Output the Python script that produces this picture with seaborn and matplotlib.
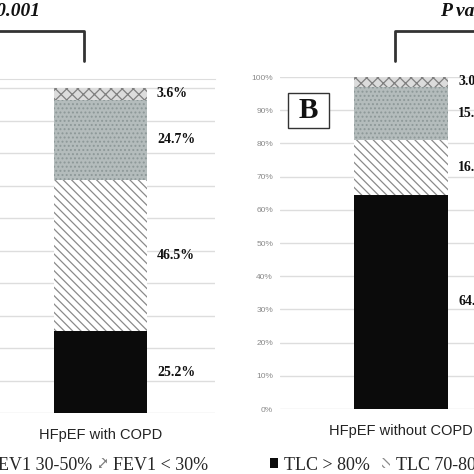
import numpy as np
import pandas as pd
import matplotlib
matplotlib.use('Agg')
import matplotlib.pyplot as plt
from matplotlib.patches import Patch, Rectangle
from matplotlib.lines import Line2D
import seaborn as sns

##values (bottom -> top of each stacked bar)
fev_cat = 'HFpEF with COPD'
fev_levels = ['FEV1 \u2265 80%', 'FEV1 50-80%', 'FEV1 30-50%', 'FEV1 < 30%']
fev_pct = [25.2, 46.5, 24.7, 3.6]

tlc_cat = 'HFpEF without COPD'
tlc_levels = ['TLC > 80%', 'TLC 70-80%', 'TLC 60-70%', 'TLC < 60%']
tlc_pct = [64.5, 16.6, 15.9, 3.0]

pval_text = 'P value < 0.001'
ytick_vals = np.arange(0, 101, 10)
ytick_labels = ['%d%%' % v for v in ytick_vals]

##segment styles (black, diagonal, dotted grey, crosshatch)
seg_style = [
    dict(color='#0b0b0b', hatch=None, edgecolor='#0b0b0b'),
    dict(color='white', hatch='\\\\\\\\', edgecolor='#8a8a8a'),
    dict(color='#b4bcbc', hatch='....', edgecolor='#8d9898'),
    dict(color='#dcdcdc', hatch='xxx', edgecolor='#7f7f7f'),
]

sns.set_style('white')
plt.rcParams['hatch.linewidth'] = 0.9
plt.rcParams['font.family'] = ['Liberation Serif', 'DejaVu Serif']

W = H = 474
fig = plt.figure(figsize=(4.74, 4.74), dpi=100)


def px_axes(x0, y0, x1, y1):
    return fig.add_axes([x0 / W, 1 - y1 / H, (x1 - x0) / W, (y1 - y0) / H])


def stacked(ax, cat, values):
    df = pd.DataFrame({'cat': [cat] * len(values), 'pct': values})
    df['top'] = df['pct'].cumsum()
    ##draw tallest first so each lower segment covers the one above
    for i in reversed(range(len(df))):
        st = seg_style[i]
        sns.barplot(x=[cat], y=[df['top'][i]], ax=ax, color=st['color'],
                    hatch=st['hatch'], edgecolor=st['edgecolor'], linewidth=0,
                    saturation=1, width=0.8, zorder=3)
    mids = df['top'] - df['pct'] / 2
    for m, v in zip(mids, df['pct']):
        ax.text(0.485, m, '%.1f%%' % v, ha='left', va='center',
                fontsize=10, fontweight='bold', color='#111111', clip_on=False)


def style_axes(ax, xlim, ylim):
    ax.set_xlim(*xlim)
    ax.set_ylim(*ylim)
    ax.set_yticks(ytick_vals)
    ax.grid(axis='y', color='#dddddd', linewidth=1, zorder=0)
    ax.set_axisbelow(True)
    for s in ax.spines.values():
        s.set_visible(False)
    ax.set_xlabel('')
    ax.set_ylabel('')
    ax.tick_params(axis='x', length=0, pad=11)
    ax.tick_params(axis='y', length=0, pad=5)
    for t in ax.get_xticklabels():
        t.set_fontfamily('Liberation Sans')
        t.set_fontsize(10.5)
        t.set_color('#222222')


##left panel (FEV1)
ax1 = px_axes(-60, 79, 215, 413)
stacked(ax1, fev_cat, fev_pct)
style_axes(ax1, (-1.381, 0.985), (0, 102.8))
ax1.set_yticklabels([])
ax1.spines['top'].set_visible(True)
ax1.spines['top'].set_color('#dddddd')

##right panel (TLC)
ax2 = px_axes(280, 77, 560, 409)
stacked(ax2, tlc_cat, tlc_pct)
style_axes(ax2, (-1.03, 1.353), (0, 100))
ax2.set_yticklabels(ytick_labels, fontsize=6, color='#8a8a8a',
                    fontfamily='Liberation Sans')

##legends under each panel
def legend_handles(levels):
    hs = []
    for lev, st in zip(levels, seg_style):
        fc = st['color'] if st['hatch'] is None else 'white'
        hs.append(Patch(facecolor=fc, hatch=st['hatch'],
                        edgecolor=st['edgecolor'], linewidth=0, label=lev))
    return hs

fig.legend(handles=legend_handles(fev_levels), loc='center right',
           bbox_to_anchor=(208 / W, 1 - 465 / H), ncol=4, frameon=False,
           fontsize=13, handlelength=0.45, handleheight=0.45,
           handletextpad=0.3, columnspacing=0.4, borderpad=0, borderaxespad=0)
fig.legend(handles=legend_handles(tlc_levels), loc='center left',
           bbox_to_anchor=(270 / W, 1 - 465 / H), ncol=4, frameon=False,
           fontsize=13, handlelength=0.45, handleheight=0.45,
           handletextpad=0.3, columnspacing=0.7, borderpad=0, borderaxespad=0)

##panel letter box
fig.add_artist(Rectangle((288 / W, 1 - 128 / H), 41 / W, 35 / H,
                         transform=fig.transFigure, facecolor='white',
                         edgecolor='#333333', linewidth=1))
fig.text(308.5 / W, 1 - 110.5 / H, 'B', ha='center', va='center',
         fontsize=21, fontweight='bold', color='#111111')

##significance brackets and p-values
lc = '#333333'
fig.add_artist(Line2D([-10 / W, 84 / W, 84 / W], [1 - 31 / H, 1 - 31 / H, 1 - 61 / H],
                      transform=fig.transFigure, color=lc, linewidth=2))
fig.add_artist(Line2D([395 / W, 395 / W, 490 / W], [1 - 61 / H, 1 - 31 / H, 1 - 31 / H],
                      transform=fig.transFigure, color=lc, linewidth=2))
fig.text(40 / W, 1 - 16 / H, pval_text, ha='right', va='baseline', fontsize=14,
         fontweight='bold', fontstyle='italic', color='#111111')
fig.text(440 / W, 1 - 16 / H, pval_text, ha='left', va='baseline', fontsize=14,
         fontweight='bold', fontstyle='italic', color='#111111')

fig.savefig('out.png', dpi=100)
